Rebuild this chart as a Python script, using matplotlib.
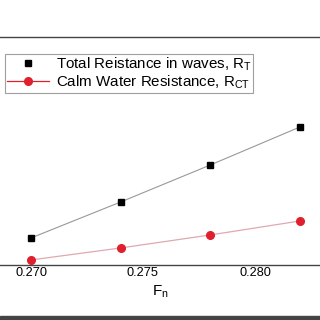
import matplotlib.pyplot as plt
from matplotlib.patches import Rectangle
from matplotlib.lines import Line2D

# datos (eje y sin escala visible)
fn = [0.270, 0.274, 0.278, 0.282]
r_total = [27, 63, 100, 138]
r_calma = [5, 17, 30, 44]

plt.rcParams['font.family'] = ['Liberation Sans', 'DejaVu Sans']
plt.rcParams['mathtext.fontset'] = 'custom'
plt.rcParams['mathtext.rm'] = 'Liberation Sans'

fig = plt.figure(figsize=(3.2, 3.2), dpi=100)
ax = fig.add_axes([0, 0.172, 1, 0.712])

ax.plot(fn, r_total, color='#999999', lw=0.8, marker='s', ms=4,
        mfc='black', mec='black')
ax.plot(fn, r_calma, color='#e0a8b0', lw=0.9, marker='o', ms=5.5,
        mfc='#e0202e', mec='#e0202e')

ax.set_xlim(0.268616, 0.282902)
ax.set_ylim(0, 228)
ax.set_xticks([0.270, 0.275, 0.280])
ax.set_xticklabels(['0.270', '0.275', '0.280'])
ax.set_yticks([])
ax.tick_params(axis='x', length=0, pad=1.5, labelsize=9.2)
for s in ['left', 'right']:
    ax.spines[s].set_visible(False)
for s in ['top', 'bottom']:
    ax.spines[s].set_linewidth(1.0)
    ax.spines[s].set_color('#444444')

ax.set_xlabel('F$_\\mathregular{n}$', fontsize=11, labelpad=3)

# en la leyenda el total solo muestra el marcador
h_total = Line2D([], [], ls='none', marker='s', ms=4, mfc='black', mec='black')
h_calma = Line2D([], [], color='#e0202e', lw=0.9, marker='o', ms=5.5,
                 mfc='#e0202e', mec='#e0202e')
leg = ax.legend([h_total, h_calma],
                ['Total Reistance in waves, R$_\\mathregular{T}$',
                 'Calm Water Resistance, R$_\\mathregular{CT}$'],
                loc='upper left', bbox_to_anchor=(0.016, 0.925), fontsize=10.9,
                frameon=True, fancybox=False, borderpad=0.1, labelspacing=0.0,
                handlelength=2.8, handletextpad=0.45, borderaxespad=0)
leg.get_frame().set_edgecolor('#888888')
leg.get_frame().set_linewidth(0.8)

fig.patches.append(Rectangle((0, 0), 1, 0.013, transform=fig.transFigure,
                             color='#444444', zorder=5))

plt.savefig('out.png', dpi=100)
plt.close()
